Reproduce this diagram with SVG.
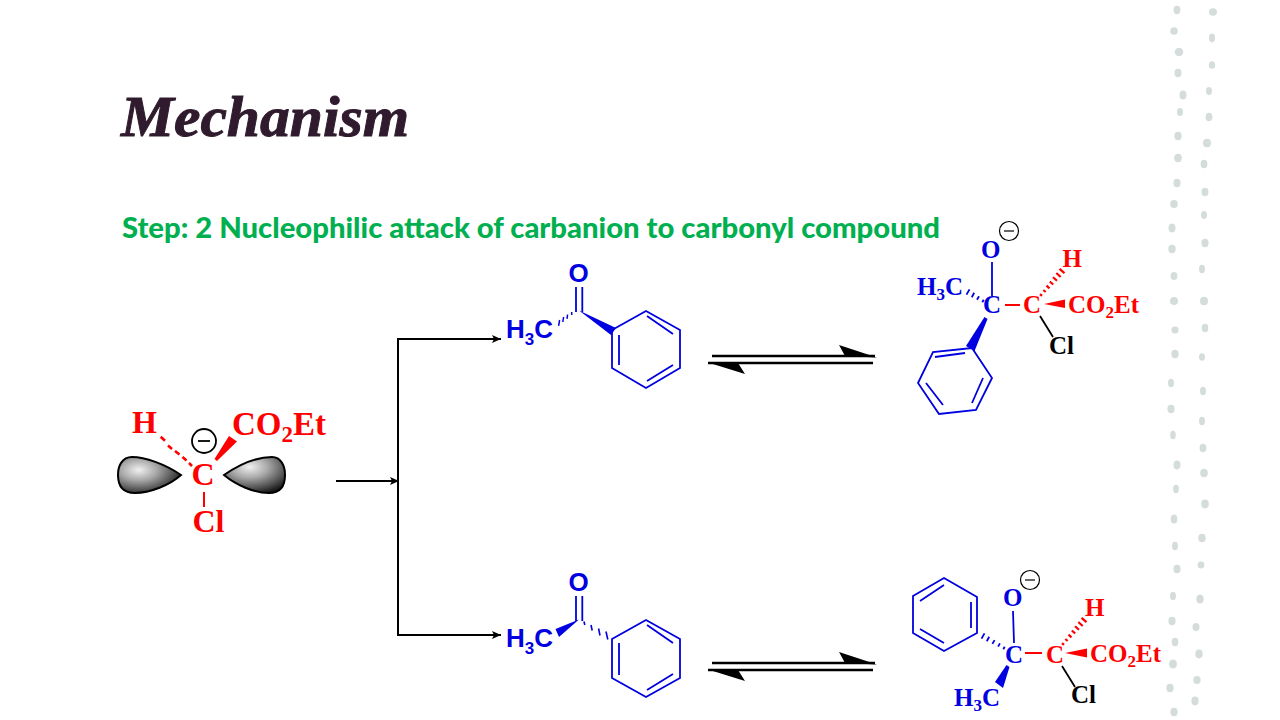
<svg xmlns="http://www.w3.org/2000/svg" xmlns:xlink="http://www.w3.org/1999/xlink" width="1280" height="720" viewBox="0 0 1280 720">
<style>
.ser{font-family:"Liberation Serif","Times New Roman",serif;font-weight:700}
.san{font-family:"Liberation Sans",Arial,sans-serif;font-weight:700;font-size:26px;fill:#0000e0}
.r31{font-size:32px;fill:#f00}
.r24{font-size:25px;fill:#f00}
.b24{font-size:25px;fill:#0000e0}
.k24{font-size:25px;fill:#000}
.bl{fill:none;stroke:#0000e0;stroke-width:1.8}
.rd{fill:none;stroke:#f00;stroke-width:2}
.bk{fill:none;stroke:#000;stroke-width:1.8}
.fb{fill:#0000e0}.fr{fill:#f00}.fk{fill:#000}
.wire{fill:none;stroke:#000;stroke-width:2}
.lobe{stroke:#000;stroke-width:2}
.neg{fill:#fff;stroke:#000;stroke-width:1.2}
.eq{stroke:#000;stroke-width:2.4;fill:none}
</style>
<defs>
<marker id="ah" markerUnits="userSpaceOnUse" markerWidth="10" markerHeight="9" refX="9" refY="4.5" orient="auto"><path d="M0 0.5L9 4.5L0 8.5L2 4.5Z" fill="#000"/></marker>
<radialGradient id="gl" cx="0.33" cy="0.36" r="0.72"><stop offset="0" stop-color="#f0f0f0"/><stop offset="0.4" stop-color="#a8a8a8"/><stop offset="0.8" stop-color="#4c4c4c"/><stop offset="1" stop-color="#1c1c1c"/></radialGradient>
<radialGradient id="gr" cx="0.42" cy="0.28" r="0.75"><stop offset="0" stop-color="#f0f0f0"/><stop offset="0.4" stop-color="#a8a8a8"/><stop offset="0.8" stop-color="#4c4c4c"/><stop offset="1" stop-color="#1c1c1c"/></radialGradient>
<path id="hashH" d="M-1 -.9L1 .9M2.3 -5L4.7 -3M5.5 -9.3L8.5 -6.7M8.8 -13.5L12.2 -10.5M12 -17.8L16 -14.2M15.3 -22L19.7 -18M18.5 -26.2L23.5 -21.8" fill="none" stroke="#f00" stroke-width="2.2"/>
<g id="eqm">
<path class="eq" d="M712 0H875M708 7H873"/>
<path class="fk" d="M877 1.5L839 -11L845 0ZM708 6.5L745 18L738 7Z"/>
</g>
</defs>
<rect width="1280" height="720" fill="#fff"/>

<g id="dots" fill="#d5dddc">
<ellipse cx="1177" cy="10" rx="3.4" ry="4.2"/><ellipse cx="1174" cy="31" rx="3.8" ry="3.8"/><ellipse cx="1179" cy="52" rx="4.3" ry="4.2"/><ellipse cx="1178" cy="73" rx="3.5" ry="4.2"/><ellipse cx="1183" cy="95" rx="3.5" ry="4.6"/><ellipse cx="1180" cy="112" rx="3" ry="4"/><ellipse cx="1178" cy="136" rx="3.7" ry="4.2"/><ellipse cx="1178" cy="158" rx="3.8" ry="4.3"/><ellipse cx="1177" cy="183" rx="3.6" ry="4.2"/><ellipse cx="1174" cy="204" rx="3.8" ry="4"/><ellipse cx="1172" cy="228" rx="3.6" ry="4.6"/><ellipse cx="1172" cy="249" rx="3.7" ry="4.2"/><ellipse cx="1174" cy="276" rx="3.4" ry="4"/><ellipse cx="1174" cy="301" rx="4" ry="4"/><ellipse cx="1175" cy="330" rx="3.6" ry="3.4"/><ellipse cx="1175" cy="354" rx="3.7" ry="4.2"/>
<ellipse cx="1213" cy="12" rx="4" ry="3.8"/><ellipse cx="1212" cy="38" rx="3" ry="4.4"/><ellipse cx="1212" cy="65" rx="3.2" ry="3.8"/><ellipse cx="1209" cy="91" rx="3" ry="4"/><ellipse cx="1209" cy="117" rx="3.4" ry="4.2"/><ellipse cx="1207" cy="143" rx="4" ry="4.2"/><ellipse cx="1204" cy="164" rx="3.4" ry="4.2"/><ellipse cx="1205" cy="192" rx="3.5" ry="4.2"/><ellipse cx="1204" cy="215" rx="3" ry="4"/><ellipse cx="1205" cy="243" rx="3.6" ry="4.2"/><ellipse cx="1202" cy="269" rx="3" ry="4.2"/><ellipse cx="1204" cy="301" rx="4" ry="4.2"/><ellipse cx="1205" cy="328" rx="3.3" ry="4.2"/><ellipse cx="1202" cy="357" rx="3" ry="3.8"/>
<ellipse cx="1171" cy="383" rx="3" ry="4.2"/><ellipse cx="1171" cy="409" rx="3.6" ry="4.2"/><ellipse cx="1173" cy="435" rx="2.8" ry="4.2"/><ellipse cx="1177" cy="465" rx="3.5" ry="4.4"/><ellipse cx="1176" cy="489" rx="2.9" ry="4.2"/><ellipse cx="1174" cy="519" rx="3.3" ry="4.6"/><ellipse cx="1175" cy="546" rx="3" ry="4.2"/><ellipse cx="1177" cy="569" rx="3.6" ry="4.2"/><ellipse cx="1173" cy="596" rx="3" ry="4.2"/><ellipse cx="1172" cy="621" rx="3.6" ry="4.2"/><ellipse cx="1175" cy="642" rx="3.3" ry="4.2"/><ellipse cx="1173" cy="664" rx="4" ry="4.6"/><ellipse cx="1170" cy="688" rx="3.7" ry="4.2"/><ellipse cx="1174" cy="712" rx="3.7" ry="4.2"/>
<ellipse cx="1203" cy="391" rx="3" ry="4.2"/><ellipse cx="1202" cy="421" rx="3" ry="4.2"/><ellipse cx="1203" cy="448" rx="3.4" ry="4.2"/><ellipse cx="1204" cy="473" rx="3.8" ry="4.2"/><ellipse cx="1205" cy="504" rx="3.8" ry="4.4"/><ellipse cx="1202" cy="538" rx="3.7" ry="4.2"/><ellipse cx="1201" cy="565" rx="3.4" ry="3.4"/><ellipse cx="1200" cy="599" rx="3.8" ry="4.6"/><ellipse cx="1196" cy="627" rx="3.5" ry="4"/><ellipse cx="1199" cy="654" rx="3.7" ry="4.4"/><ellipse cx="1197" cy="680" rx="3.7" ry="4"/><ellipse cx="1195" cy="701" rx="3.6" ry="4.4"/>
</g>

<text id="title" x="121" y="136" font-family="'Liberation Serif',serif" font-weight="700" font-style="italic" font-size="58" fill="#2f1b2d" stroke="#2f1b2d" stroke-width="1" textLength="288" lengthAdjust="spacingAndGlyphs">Mechanism</text>
<text id="step" x="122" y="238" font-family="Lato,'Open Sans',sans-serif" font-weight="900" font-size="27.5" fill="#00b050" textLength="818" lengthAdjust="spacingAndGlyphs">Step: 2 Nucleophilic attack of carbanion to carbonyl compound</text>

<g id="connectors">
<path class="wire" d="M336 481H399" marker-end="url(#ah)"/>
<path class="wire" d="M398 339V635"/>
<path class="wire" d="M397 339H501" marker-end="url(#ah)"/>
<path class="wire" d="M397 635H501" marker-end="url(#ah)"/>
<use xlink:href="#eqm" href="#eqm" x="0" y="356"/>
<use xlink:href="#eqm" href="#eqm" x="0" y="663"/>
</g>

<g id="carbanion">
<path class="lobe" fill="url(#gl)" d="M181 475C165 464 145 457 132 457C122 457 118 466 118 475C118 486 123 493 135 493C150 493 170 485 181 475Z"/>
<path class="lobe" fill="url(#gr)" d="M224 475C240 464 258 457 272 457C281 457 285 466 285 475C285 486 280 493 269 493C254 493 236 485 224 475Z"/>
<path d="M160.7 436.7L165 440.7M168 445.5L172 449M175 451L179.5 454.5M182.5 457L186.5 460.5M189 463L192 466" fill="none" stroke="#f00" stroke-width="2.6" stroke-dasharray="none"/>
<path class="fr" d="M214.5 459L229 436L237 441.5L217 461Z"/>
<path class="rd" d="M204 492V507"/>
<circle class="neg" cx="204" cy="441" r="12" style="stroke-width:1.8"/>
<path class="bk" d="M198 441H210"/>
<text class="ser r31" x="132" y="433">H</text>
<text class="ser r31" x="232" y="435" style="font-size:33px">CO<tspan font-size="23" dy="7">2</tspan><tspan dy="-7">Et</tspan></text>
<text class="ser r31" x="191.5" y="485">C</text>
<text class="ser r31" x="192.5" y="532">Cl</text>
</g>

<g id="ketone-top">
<path class="bl" d="M576 287V312M582.3 287V312"/>
<path class="fb" d="M579 310.5L616 328L611 335Z"/>
<path class="bl" d="M571.7 312V315M567.6 314.5L567 318.8M563.6 317L562.8 322M559.6 320L558.6 325.8" style="stroke-width:1.5"/>
<path class="bl" d="M646 311L680 330V368L646 388L612 368V330ZM619 335V365M647 316L673 334M647 381L673 365"/>
<text class="san" x="568.5" y="281.5">O</text>
<text class="san" x="506" y="338">H<tspan font-size="17" dy="7">3</tspan><tspan dy="-7">C</tspan></text>
</g>

<g id="ketone-bottom">
<path class="bl" d="M576 596V621M582.3 596V621"/>
<path class="fb" d="M579 619.5L559 637L555.5 629Z"/>
<path class="bl" d="M584 621.5L584.8 625M591 625L592.2 630.5M598.6 628.5L600 635.5M606 631.5L607.8 639.5" style="stroke-width:1.6"/>
<path class="bl" d="M646 620L680 639V678L646 697L612 678V639ZM619 643V675M647 625L673 643M647 690L673 674"/>
<text class="san" x="568.5" y="590.5">O</text>
<text class="san" x="506" y="647">H<tspan font-size="17" dy="7">3</tspan><tspan dy="-7">C</tspan></text>
</g>

<g id="product-top">
<circle class="neg" cx="1009" cy="231" r="9.5"/>
<path class="bk" d="M1004 231H1014" style="stroke-width:1.2"/>
<path class="bl" d="M992 262V296"/>
<path class="bl" d="M966.5 294.6L969.5 289.4M971.8 297.2L974.2 292.8M977 299.7L979 296.3M982.3 302.2L983.7 299.8"/>
<path class="fb" d="M984.5 317L987.5 319L974.5 351L966 346Z"/>
<path class="bl" d="M972 348L992 378L976 410L939 414L918 383L933 352ZM935 357L965 353M983 378L972 403M926 383L943 405"/>
<path class="rd" d="M1005 305H1020"/>
<use xlink:href="#hashH" href="#hashH" x="1041" y="295"/>
<path class="fr" d="M1044 304L1065 299.5V308Z"/>
<path class="bk" d="M1040 316L1053 337"/>
<text class="ser b24" x="981" y="258">O</text>
<text class="ser b24" x="917" y="295">H<tspan font-size="17" dy="5">3</tspan><tspan dy="-5">C</tspan></text>
<text class="ser b24" x="983" y="313">C</text>
<text class="ser r24" x="1023" y="313">C</text>
<text class="ser r24" x="1062.5" y="267">H</text>
<text class="ser r24" x="1068" y="313">CO<tspan font-size="17" dy="5">2</tspan><tspan dy="-5">Et</tspan></text>
<text class="ser k24" x="1049" y="354">Cl</text>
</g>

<g id="product-bottom">
<circle class="neg" cx="1030" cy="580" r="9.5"/>
<path class="bk" d="M1025 580H1035" style="stroke-width:1.2"/>
<path class="bl" d="M1013 611L1014 643"/>
<path class="bl" d="M981.5 638.6L984.5 633.4M986.8 641.2L989.2 636.8M992.4 643.9L994.6 640.1M998.1 646.6L999.9 643.4M1003.3 649.2L1004.7 646.8"/>
<path class="fb" d="M1006.5 665L1009.5 667L1003 688L995 682Z"/>
<path class="bl" d="M944 578L977 597V633L944 651L913 633V596ZM920 601L944 585M971 602V628M920 629L944 643"/>
<path class="rd" d="M1025 653H1042"/>
<use xlink:href="#hashH" href="#hashH" x="1063" y="644"/>
<path class="fr" d="M1065 653L1087 648.5V657.5Z"/>
<path class="bk" d="M1062 666L1075 687"/>
<text class="ser b24" x="1003" y="606">O</text>
<text class="ser b24" x="954" y="706">H<tspan font-size="17" dy="5">3</tspan><tspan dy="-5">C</tspan></text>
<text class="ser b24" x="1005" y="663">C</text>
<text class="ser r24" x="1046" y="663">C</text>
<text class="ser r24" x="1085" y="616">H</text>
<text class="ser r24" x="1090" y="662">CO<tspan font-size="17" dy="5">2</tspan><tspan dy="-5">Et</tspan></text>
<text class="ser k24" x="1071" y="703">Cl</text>
</g>
</svg>
